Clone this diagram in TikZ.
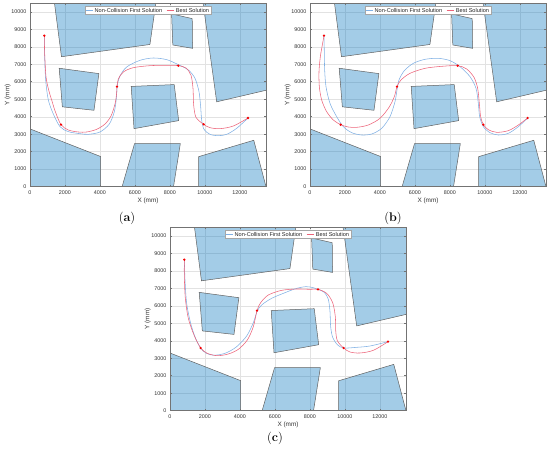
\documentclass[tikz,border=0pt]{standalone}
\usepackage{fontspec}
\newfontfamily\axfont{Liberation Sans}
\definecolor{obsblue}{RGB}{0,114,189}
\definecolor{pathblue}{RGB}{128,176,228}
\definecolor{pathred}{RGB}{236,100,122}
\definecolor{wpred}{RGB}{245,0,0}
\definecolor{gridgray}{RGB}{226,226,226}
\definecolor{framegray}{RGB}{115,115,115}
\tikzset{
 obstacle/.style={fill=obsblue, fill opacity=0.36, draw=black!62, line width=0.5pt},
 gridline/.style={draw=gridgray, line width=0.35pt},
 axframe/.style={draw=framegray, line width=0.5pt},
 ticklbl/.style={font=\axfont\fontsize{5.4}{6}\selectfont, text=black!80, inner sep=0pt},
 axlbl/.style={font=\axfont\fontsize{6.4}{7}\selectfont, text=black!80, inner sep=0pt},
 leglbl/.style={font=\axfont\fontsize{5.6}{6}\selectfont, text=black!85, inner sep=0pt, anchor=west},
 legbox/.style={draw=black!35, fill=white, line width=0.4pt},
 firstsol/.style={draw=pathblue, line width=0.55pt},
 bestsol/.style={draw=pathred, line width=0.55pt},
 waypt/.style={fill=wpred, draw=none},
 panellbl/.style={font=\fontsize{12.5}{14}\selectfont, inner sep=0pt},
}
\newcommand{\drawaxes}[3]{%
\begin{scope}[shift={(#1,#2)},x=17.481pt,y=17.481pt]
 \begin{scope}
  \clip (0,0) rectangle (13.5,10.5);
  \foreach \gx in {2,4,...,12} \draw[gridline] (\gx,0) -- (\gx,10.5);
  \foreach \gy in {1,...,10} \draw[gridline] (0,\gy) -- (13.5,\gy);
  \draw[obstacle] (1.387,10.6) -- (7.214,10.6) -- (6.86,8.13) -- (1.8,7.43) -- cycle;
  \draw[obstacle] (8.1,9.88) -- (9.28,9.61) -- (9.3,7.91) -- (8.17,8.1) -- cycle;
  \draw[obstacle] (1.67,6.77) -- (3.94,6.465) -- (3.66,4.365) -- (1.85,4.565) -- cycle;
  \draw[obstacle] (5.79,5.73) -- (8.25,5.835) -- (8.505,3.775) -- (5.95,3.315) -- cycle;
  \draw[obstacle] (9.886,10.6) -- (13.6,10.6) -- (13.6,5.533) -- (10.68,4.85) -- cycle;
  \draw[obstacle] (-0.1,3.34) -- (4.04,1.72) -- (4.04,-0.1) -- (-0.1,-0.1) -- cycle;
  \draw[obstacle] (5.98,2.46) -- (8.6,2.46) -- (8.194,-0.1) -- (5.241,-0.1) -- cycle;
  \draw[obstacle] (9.64,1.71) -- (12.8,2.65) -- (13.526,-0.1) -- (9.64,-0.1) -- cycle;
 \end{scope}
 \draw[axframe] (0,0) rectangle (13.5,10.5);
 \foreach \v/\t in {0/0,2/2000,4/4000,6/6000,8/8000,10/10000,12/12000} {
  \draw[axframe] (\v,0) -- (\v,0.11);
  \draw[axframe] (\v,10.5) -- (\v,10.39);
  \node[ticklbl,anchor=north] (#3-xt\v) at (\v,-0.2) {\t};
 }
 \foreach \v/\t in {0/0,1/1000,2/2000,3/3000,4/4000,5/5000,6/6000,7/7000,8/8000,9/9000,10/10000} {
  \draw[axframe] (0,\v) -- (0.11,\v);
  \draw[axframe] (13.5,\v) -- (13.39,\v);
  \node[ticklbl,anchor=east] (#3-yt\v) at (-0.19,\v) {\t};
 }
 \node[axlbl] (#3-xl) at (6.75,-0.82) {X (mm)};
 \node[axlbl,rotate=90] (#3-yl) at (-1.28,5.25) {Y (mm)};
 \begin{scope}[shift={(6.75,10.5)},x=1pt,y=-1pt]
  \draw[legbox] (-63,3.4) rectangle (63,11.4);
  \draw[firstsol] (-61.5,7.4) -- (-54.5,7.4);
  \node[leglbl] (#3-lg1) at (-53.5,7.4) {Non-Collision First Solution};
  \draw[bestsol] (18.7,7.4) -- (26.3,7.4);
  \node[leglbl] (#3-lg2) at (27.8,7.4) {Best Solution};
 \end{scope}
\end{scope}}
\begin{document}
\begin{tikzpicture}[x=1pt,y=-1pt]
\useasboundingbox (0,0) rectangle (550,452);
% ---------- panel (a)
\drawaxes{30}{186.6}{a}
\begin{scope}[shift={(0,0)},x=0.33333pt,y=-0.33333pt]
 \draw[firstsol] plot[smooth] coordinates {(133,107) (134,170) (137,240) (145,300) (160,342) (180,380) (205,395) (240,401) (265,403) (300,396) (328,372) (343,335) (349,295) (352,255) (360,228) (380,201) (420,181) (460,174) (500,179) (535,194) (565,210) (585,235) (597,275) (602,320) (605,360) (612,388) (630,403) (655,407) (680,403) (710,385) (744,354)};
 \draw[bestsol] plot[smooth] coordinates {(133,107) (134,160) (138,230) (146,270) (155,300) (166,335) (183,374) (205,390) (235,396) (260,396) (290,388) (315,372) (333,348) (345,312) (350,280) (351,260) (355,237) (370,216) (400,203) (450,197) (500,196) (535,197) (558,204) (573,226) (579,265) (581,315) (588,352) (611,373) (630,383) (660,386) (700,378) (744,354)};
 \foreach \p in {(133,107),(183,374),(351,260),(535,197),(611,373),(744,354)} \fill[waypt] \p circle (1.3pt);
\end{scope}
\node[panellbl] (lbl-a) at (127,218) {(\textbf{a})};
% ---------- panel (b)
\drawaxes{310}{186.6}{b}
\begin{scope}[shift={(275,0)},x=0.33333pt,y=-0.33333pt]
 \draw[firstsol] plot[smooth] coordinates {(147,107) (148,160) (149,210) (153,260) (165,310) (185,350) (205,380) (230,398) (260,405) (290,402) (320,385) (345,350) (360,305) (366,270) (372,240) (388,212) (415,190) (450,178) (490,175) (525,182) (555,200) (585,230) (603,265) (610,310) (614,350) (625,380) (645,398) (670,405) (700,400) (730,380) (758,354)};
 \draw[bestsol] plot[smooth] coordinates {(147,107) (142,135) (136,170) (132,215) (133,260) (140,300) (155,335) (175,360) (197,374) (220,381) (245,382) (280,375) (315,355) (342,322) (358,290) (366,260) (378,240) (405,220) (450,205) (500,199) (548,197) (575,207) (597,232) (608,265) (613,310) (617,350) (625,374) (640,389) (665,397) (700,392) (730,375) (758,354)};
 \foreach \p in {(147,107),(197,374),(366,260),(548,197),(625,374),(758,354)} \fill[waypt] \p circle (1.3pt);
\end{scope}
\node[panellbl] (lbl-b) at (393,218) {(\textbf{b})};
% ---------- panel (c)
\drawaxes{170}{410.7}{c}
\begin{scope}[shift={(130,220)},x=0.33333pt,y=-0.33333pt]
 \draw[firstsol] plot[smooth] coordinates {(163,119) (165,180) (170,250) (182,310) (198,358) (218,392) (240,404) (262,405) (290,398) (320,380) (350,348) (370,308) (381,275) (395,255) (425,235) (465,218) (500,205) (528,200) (550,203) (564,208) (583,217) (595,238) (600,275) (602,320) (608,352) (622,374) (641,384) (680,382) (720,378) (774,365)};
 \draw[bestsol] plot[smooth] coordinates {(163,119) (163,170) (166,235) (175,295) (192,345) (212,384) (232,400) (262,407) (295,402) (325,388) (352,360) (370,320) (381,272) (392,248) (415,225) (455,211) (500,207) (540,208) (564,208) (590,220) (608,248) (616,290) (617,330) (622,362) (641,384) (660,396) (690,399) (730,391) (774,365)};
 \foreach \p in {(163,119),(212,384),(381,272),(564,208),(641,384),(774,365)} \fill[waypt] \p circle (1.3pt);
\end{scope}
\node[panellbl] (lbl-c) at (275,438.5) {(\textbf{c})};
\end{tikzpicture}
\end{document}
